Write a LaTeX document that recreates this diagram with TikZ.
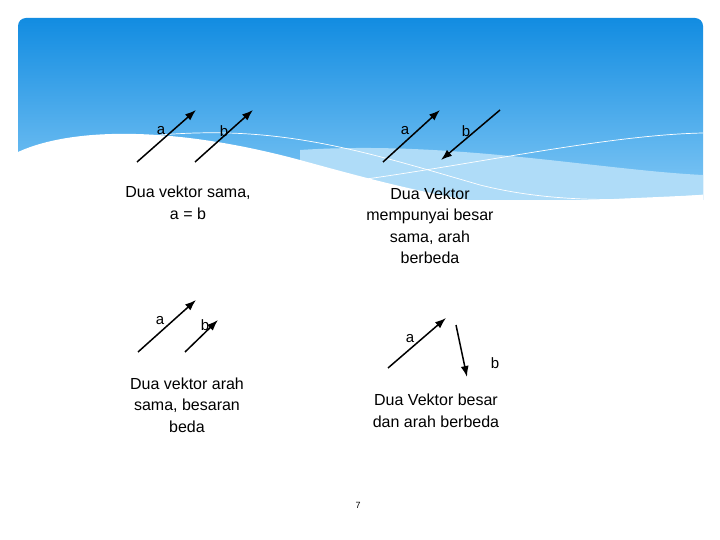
\documentclass[tikz,border=0pt]{standalone}
\usepackage{fontspec}
\setmainfont{Liberation Sans}
\usetikzlibrary{arrows.meta}
\definecolor{hdtop}{RGB}{18,140,225}
\definecolor{hdbot}{RGB}{130,200,245}
\definecolor{hdband}{RGB}{175,220,248}
\begin{document}
\begin{tikzpicture}[x=1pt,y=-1pt,
  vec/.style={-{Latex[length=11pt,width=8pt]},line width=1.5pt},
  lbl/.style={font=\fontsize{15}{17}\selectfont},
  txt/.style={font=\fontsize{16}{21.5}\selectfont,align=center}]
\useasboundingbox (0,0) rectangle (720,540);
\fill[white] (0,0) rectangle (720,540);
\begin{scope}
\clip[rounded corners=8pt] (18,18) rectangle (703,560);
\shade[top color=hdtop, bottom color=hdbot] (18,18) rectangle (703,200);
\fill[hdband] (300,150) .. controls (450,140) and (600,170) .. (703,175) -- (703,200) -- (300,200) -- cycle;
\fill[white] (18,152) .. controls (70,128) and (170,125) .. (300,160) .. controls (380,182) and (430,195) .. (500,205) -- (18,205) -- cycle;
\fill[white] (480,205) -- (703,195) -- (703,205) -- cycle;
\draw[white,line width=0.7pt] (160,135) .. controls (280,125) and (360,150) .. (480,185) .. controls (560,205) and (640,200) .. (703,195);
\draw[white,line width=0.7pt] (320,185) .. controls (450,170) and (600,135) .. (703,133);
\end{scope}
% panel 1
\coordinate (a1s) at (137,162); \coordinate (a1e) at (196,110);
\coordinate (b1s) at (195,162); \coordinate (b1e) at (253,110);
\draw[vec] (a1s) -- (a1e); \draw[vec] (b1s) -- (b1e);
\node[lbl] (la1) at (161,131) {a}; \node[lbl] (lb1) at (224,131) {b};
\node[txt] (t1) at (188,203) {Dua vektor sama,\\a = b};
% panel 2
\coordinate (a2s) at (383,162); \coordinate (a2e) at (440,110);
\coordinate (b2s) at (500,110); \coordinate (b2e) at (441,160);
\draw[vec] (a2s) -- (a2e); \draw[vec] (b2s) -- (b2e);
\node[lbl] (la2) at (405,131) {a}; \node[lbl] (lb2) at (466,131) {b};
\node[txt] (t2) at (430,226) {Dua Vektor\\mempunyai besar\\sama, arah\\berbeda};
% panel 3
\coordinate (a3s) at (138,352); \coordinate (a3e) at (196,300);
\coordinate (b3s) at (185,352); \coordinate (b3e) at (218,320);
\draw[vec] (a3s) -- (a3e); \draw[vec] (b3s) -- (b3e);
\node[lbl] (la3) at (160,321) {a}; \node[lbl] (lb3) at (205,325) {b};
\node[txt] (t3) at (187,405) {Dua vektor arah\\sama, besaran\\beda};
% panel 4
\coordinate (a4s) at (388,368); \coordinate (a4e) at (446,318);
\coordinate (b4s) at (456,325); \coordinate (b4e) at (467,377);
\draw[vec] (a4s) -- (a4e); \draw[vec] (b4s) -- (b4e);
\node[lbl] (la4) at (410,339) {a}; \node[lbl] (lb4) at (495,363) {b};
\node[txt] (t4) at (436,411) {Dua Vektor besar\\dan arah berbeda};
\node[font=\fontsize{9}{10}\selectfont] (pg) at (358,505) {7};
\end{tikzpicture}
\end{document}
